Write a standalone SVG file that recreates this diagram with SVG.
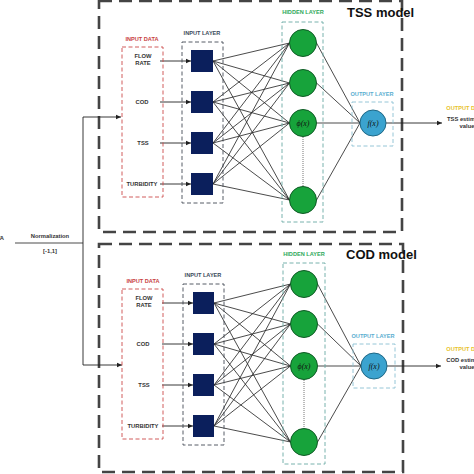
<svg xmlns="http://www.w3.org/2000/svg" width="474" height="474" viewBox="0 0 474 474">
<defs>
<marker id="ah" markerWidth="6" markerHeight="6" refX="5" refY="3" orient="auto" markerUnits="userSpaceOnUse"><path d="M0,0.8 L5,3 L0,5.2 Z" fill="#222"/></marker>
<style>
.outer{fill:none;stroke:#444;stroke-width:2.6;stroke-dasharray:13 7}
.ibox{fill:none;stroke-width:0.9;stroke-dasharray:4 2.5}
.lbl{font-family:"Liberation Sans",Arial,sans-serif;font-size:5.6px;font-weight:bold;text-anchor:middle}
.in{font-family:"Liberation Sans",Arial,sans-serif;font-size:5.8px;font-weight:bold;text-anchor:middle;fill:#333}
.title{font-family:"Liberation Sans",Arial,sans-serif;font-size:13px;font-weight:bold;fill:#111}
.sq{fill:#0b1f5c}
.hn{fill:#17a33b;stroke:#0f5a25;stroke-width:1}
.on{fill:#3ba3cf;stroke:#1f6886;stroke-width:1}
.c{stroke:#2a2a2a;stroke-width:0.85;fill:none}
.ar{stroke:#222;stroke-width:0.9;fill:none;marker-end:url(#ah)}
.fx{font-family:"Liberation Serif","Times New Roman",serif;font-size:8px;font-style:italic;text-anchor:middle;fill:#111}
</style>
</defs>
<rect width="474" height="474" fill="#fff"/>

<g id="tss-model">
<rect class="outer" x="99" y="1" width="303" height="231"/>
<text class="title" x="347" y="17">TSS model</text>
</g>
<g id="cod-model">
<rect class="outer" x="99" y="244" width="304" height="228"/>
<text class="title" x="346" y="259">COD model</text>
</g>

<g id="connectors">
<line class="ar" x1="160" y1="61" x2="191" y2="61"/>
<line class="ar" x1="160" y1="102" x2="191" y2="102"/>
<line class="ar" x1="160" y1="143" x2="191" y2="143"/>
<line class="ar" x1="160" y1="184" x2="191" y2="184"/>
<line class="ar" x1="162" y1="303" x2="193" y2="303"/>
<line class="ar" x1="162" y1="344" x2="193" y2="344"/>
<line class="ar" x1="162" y1="385" x2="193" y2="385"/>
<line class="ar" x1="162" y1="426" x2="193" y2="426"/>
<line class="c" x1="15" y1="243" x2="83" y2="243" stroke-width="1"/>
<polyline class="ar" points="83,365 83,117 121,117"/>
<line class="ar" x1="83" y1="365" x2="122" y2="365"/>
<g class="c">
<line x1="213" y1="61" x2="289.5" y2="43"/><line x1="213" y1="61" x2="289.5" y2="83"/><line x1="213" y1="61" x2="289.5" y2="123"/><line x1="213" y1="61" x2="289.5" y2="200"/>
<line x1="213" y1="102" x2="289.5" y2="43"/><line x1="213" y1="102" x2="289.5" y2="83"/><line x1="213" y1="102" x2="289.5" y2="123"/><line x1="213" y1="102" x2="289.5" y2="200"/>
<line x1="213" y1="143" x2="289.5" y2="43"/><line x1="213" y1="143" x2="289.5" y2="83"/><line x1="213" y1="143" x2="289.5" y2="123"/><line x1="213" y1="143" x2="289.5" y2="200"/>
<line x1="213" y1="184" x2="289.5" y2="43"/><line x1="213" y1="184" x2="289.5" y2="83"/><line x1="213" y1="184" x2="289.5" y2="123"/><line x1="213" y1="184" x2="289.5" y2="200"/>
<line x1="316.5" y1="43" x2="360" y2="123"/><line x1="316.5" y1="83" x2="360" y2="123"/><line x1="316.5" y1="123" x2="360" y2="123"/><line x1="316.5" y1="200" x2="360" y2="123"/>
</g>
<line x1="303" y1="137" x2="303" y2="186" stroke="#666" stroke-width="0.9" stroke-dasharray="1 1"/>
<line class="ar" x1="386" y1="123" x2="442" y2="123"/>
<g class="c">
<line x1="214" y1="303" x2="290.5" y2="284"/><line x1="214" y1="303" x2="290.5" y2="324"/><line x1="214" y1="303" x2="290.5" y2="366"/><line x1="214" y1="303" x2="290.5" y2="442"/>
<line x1="214" y1="344" x2="290.5" y2="284"/><line x1="214" y1="344" x2="290.5" y2="324"/><line x1="214" y1="344" x2="290.5" y2="366"/><line x1="214" y1="344" x2="290.5" y2="442"/>
<line x1="214" y1="385" x2="290.5" y2="284"/><line x1="214" y1="385" x2="290.5" y2="324"/><line x1="214" y1="385" x2="290.5" y2="366"/><line x1="214" y1="385" x2="290.5" y2="442"/>
<line x1="214" y1="426" x2="290.5" y2="284"/><line x1="214" y1="426" x2="290.5" y2="324"/><line x1="214" y1="426" x2="290.5" y2="366"/><line x1="214" y1="426" x2="290.5" y2="442"/>
<line x1="317.5" y1="284" x2="361" y2="366"/><line x1="317.5" y1="324" x2="361" y2="366"/><line x1="317.5" y1="366" x2="361" y2="366"/><line x1="317.5" y1="442" x2="361" y2="366"/>
</g>
<line x1="304" y1="380" x2="304" y2="428" stroke="#666" stroke-width="0.9" stroke-dasharray="1 1"/>
<line class="ar" x1="387" y1="366" x2="441" y2="366"/>
</g>

<g id="normalization">
<text class="in" x="50" y="238" fill="#222">Normalization</text>
<text class="in" x="50" y="253" font-size="6.5">[-1,1]</text>
<text class="in" x="4" y="240" style="text-anchor:end">DATA</text>
</g>

<g id="tss-input-data">
<rect class="ibox" x="122" y="47" width="41" height="150" stroke="#cc4a4a"/>
<text class="lbl" x="142" y="41" fill="#c8413f">INPUT DATA</text>
<text class="in" x="143" y="58">FLOW</text>
<text class="in" x="143" y="65">RATE</text>
<text class="in" x="142" y="104">COD</text>
<text class="in" x="143" y="145">TSS</text>
<text class="in" x="142" y="186">TURBIDITY</text>
</g>
<g id="tss-input-layer">
<rect class="ibox" x="182" y="42" width="41" height="161" stroke="#444a55"/>
<text class="lbl" x="202" y="35" fill="#3a4a5a">INPUT LAYER</text>
<rect class="sq" x="191" y="50" width="22" height="22"/>
<rect class="sq" x="191" y="91" width="22" height="22"/>
<rect class="sq" x="191" y="132" width="22" height="22"/>
<rect class="sq" x="191" y="173" width="22" height="22"/>
</g>
<g id="tss-hidden-layer">
<rect class="ibox" x="282" y="22" width="41" height="200" stroke="#6aa9a4"/>
<text class="lbl" x="303" y="14" fill="#2ea85a">HIDDEN LAYER</text>
<circle class="hn" cx="303" cy="43" r="13.5"/>
<circle class="hn" cx="303" cy="83" r="13.5"/>
<circle class="hn" cx="303" cy="123" r="13.5"/>
<circle class="hn" cx="303" cy="200" r="13.5"/>
<text class="fx" x="303" y="126">ϕ(x)</text>
</g>
<g id="tss-output-layer">
<rect class="ibox" x="352" y="102" width="41" height="44" stroke="#8bbfd3"/>
<text class="lbl" x="372" y="96" fill="#5aaed0">OUTPUT LAYER</text>
<circle class="on" cx="373" cy="123" r="13"/>
<text class="fx" x="373" y="126">f(x)</text>
</g>
<g id="tss-output">
<text class="lbl" x="466" y="110" fill="#e8c22a">OUTPUT DATA</text>
<text class="in" x="467" y="121" fill="#111">TSS estimated</text>
<text class="in" x="467" y="128" fill="#111">value</text>
</g>

<g id="cod-input-data">
<rect class="ibox" x="122" y="289" width="41" height="150" stroke="#cc4a4a"/>
<text class="lbl" x="143" y="283" fill="#c8413f">INPUT DATA</text>
<text class="in" x="144" y="300">FLOW</text>
<text class="in" x="144" y="307">RATE</text>
<text class="in" x="143" y="346">COD</text>
<text class="in" x="144" y="387">TSS</text>
<text class="in" x="143" y="428">TURBIDITY</text>
</g>
<g id="cod-input-layer">
<rect class="ibox" x="183" y="284" width="41" height="161" stroke="#444a55"/>
<text class="lbl" x="203" y="277" fill="#3a4a5a">INPUT LAYER</text>
<rect class="sq" x="193" y="292" width="21" height="22"/>
<rect class="sq" x="193" y="333" width="21" height="22"/>
<rect class="sq" x="193" y="374" width="21" height="22"/>
<rect class="sq" x="193" y="415" width="21" height="22"/>
</g>
<g id="cod-hidden-layer">
<rect class="ibox" x="283" y="263" width="42" height="201" stroke="#6aa9a4"/>
<text class="lbl" x="304" y="256" fill="#2ea85a">HIDDEN LAYER</text>
<circle class="hn" cx="304" cy="284" r="13.5"/>
<circle class="hn" cx="304" cy="324" r="13.5"/>
<circle class="hn" cx="304" cy="366" r="13.5"/>
<circle class="hn" cx="304" cy="442" r="13.5"/>
<text class="fx" x="304" y="369">ϕ(x)</text>
</g>
<g id="cod-output-layer">
<rect class="ibox" x="353" y="344" width="42" height="44" stroke="#8bbfd3"/>
<text class="lbl" x="373" y="338" fill="#5aaed0">OUTPUT LAYER</text>
<circle class="on" cx="374" cy="366" r="13"/>
<text class="fx" x="374" y="369">f(x)</text>
</g>
<g id="cod-output">
<text class="lbl" x="466" y="351" fill="#e8c22a">OUTPUT DATA</text>
<text class="in" x="467" y="362" fill="#111">COD estimated</text>
<text class="in" x="467" y="369" fill="#111">value</text>
</g>
</svg>
